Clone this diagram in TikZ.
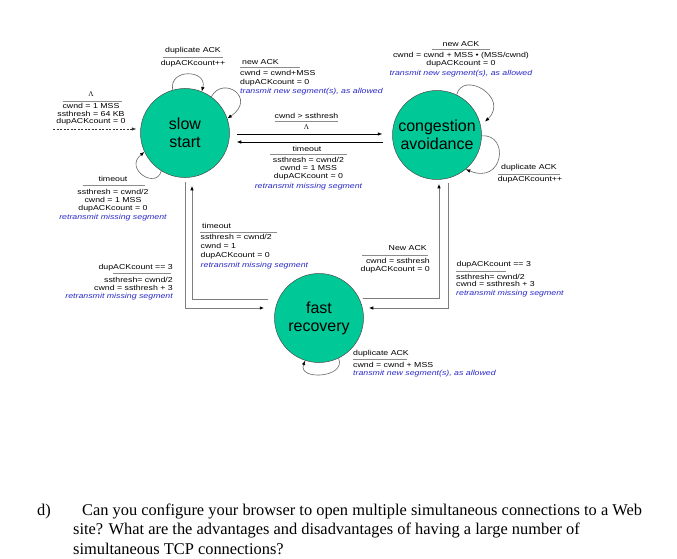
\documentclass[tikz,border=0pt]{standalone}
\usepackage{fontspec}
\setmainfont{Liberation Serif}
\newfontfamily\labfont[FakeStretch=1.22]{Liberation Sans}
\newfontfamily\statefont{Liberation Sans}
\usetikzlibrary{arrows.meta,calc}
\definecolor{stfill}{RGB}{0,200,150}
\definecolor{actblue}{RGB}{40,40,200}
\definecolor{linkgray}{RGB}{125,125,125}
\definecolor{sepgray}{RGB}{140,140,140}
\newcommand\labstack[2]{\begin{tabular}[t]{@{}#1@{}}#2\end{tabular}}
\newcommand\bluetext[1]{\textcolor{actblue}{\itshape #1}}
\begin{document}
\begin{tikzpicture}[x=1pt,y=-1pt,
  state/.style={circle, draw=black!70, line width=0.5pt, fill=stfill, minimum size=89pt, inner sep=0pt,
    font=\statefont\fontsize{16}{18}\selectfont, align=center},
  lab/.style={inner sep=0pt, font=\labfont\fontsize{7.2}{8.2}\selectfont},
  sep/.style={draw=sepgray, line width=0.8pt},
  link/.style={draw=linkgray, line width=0.9pt, -{Latex[length=4.5pt,width=3.5pt,color=black]}},
  loopc/.style={draw=black!60, line width=0.6pt, -{Latex[length=4.5pt,width=3.5pt,color=black]}},
  trans/.style={draw=black, line width=0.6pt, -{Latex[length=4.5pt,width=3.5pt]}},
  q/.style={inner sep=0pt, font=\fontsize{16.4}{19}\selectfont}]
\fill[white] (0,0) rectangle (677,559);
\useasboundingbox (0,0) rectangle (677,559);

% states
\node[state] (ss) at (185,133) {slow\\start};
\node[state] (ca) at (437,135) {congestion\\avoidance};
\node[state] (fr) at (319,318) {fast\\recovery};

% initial transition
\coordinate (init) at (53,129);
\draw[trans, draw=black!80, dash pattern=on 2pt off 1.5pt, shorten >=4pt] (init) -- (init -| ss.west);
\node[lab,anchor=base] (e3) at (91,96.7) {\rmfamily Λ};
\draw[sep] (63,101) -- (122,101);
\node[lab,anchor=base] (a3) at (91,109) {\labstack{c}{cwnd = 1 MSS\\[-0.7pt] ssthresh = 64 KB\\[-0.7pt] dupACKcount = 0}};

% slow start loops
\draw[loopc] (ss.106) .. controls +(-4,-22) and +(6,-22) .. (ss.68);
\node[lab,anchor=base] (e1) at (193,53) {duplicate ACK};
\draw[sep] (163,57.3) -- (223,57.3);
\node[lab,anchor=base] (a1) at (193,65.5) {dupACKcount++};

\draw[loopc] (ss.54) .. controls +(12,-22) and +(30,-20) .. (ss.19);
\node[lab,anchor=base west] (e2) at (242,64.3) {new ACK};
\draw[sep] (240,67.5) -- (300,67.5);
\node[lab,anchor=base west] (a2) at (240,75.7) {\labstack{l}{cwnd = cwnd+MSS\\[0.3pt] dupACKcount = 0\\[1pt] \bluetext{transmit new segment(s), as allowed}}};

\draw[loopc] (ss.238) .. controls +(-5,19) and +(-21,17) .. (ss.205);
\node[lab,anchor=base] (e6) at (113,181.7) {timeout};
\draw[sep] (83,185.7) -- (145,185.7);
\node[lab,anchor=base] (a6) at (113,194) {\labstack{c}{ssthresh = cwnd/2\\ cwnd = 1 MSS\\ dupACKcount = 0\\[1.2pt]\bluetext{retransmit missing segment}}};

% slow start <-> congestion avoidance
\draw[trans] ($(ss.east)+(7,1)$) -- ($(ca.west)+(-10,-1)$);
\draw[trans] ($(ca.west)+(-9,7)$) -- ($(ss.east)+(7,9)$);
\node[lab,anchor=base] (e4) at (306.5,118.3) {cwnd > ssthresh};
\draw[sep] (275,121) -- (338,121);
\node[lab,anchor=base] (a4) at (306.5,130) {\rmfamily Λ};

\node[lab,anchor=base] (e5) at (307,151) {timeout};
\draw[sep] (270,154.3) -- (347,154.3);
\node[lab,anchor=base] (a5) at (308.5,162.3) {\labstack{c}{ssthresh = cwnd/2\\ cwnd = 1 MSS\\ dupACKcount = 0\\[1.2pt] \bluetext{retransmit missing segment}}};

% congestion avoidance loops
\draw[loopc] (ca.64) .. controls +(6.5,-25) and +(25,-24) .. ($(ca.16)+(5,-1)$);
\node[lab,anchor=base] (e11) at (461,46.5) {new ACK};
\draw[sep] (432,49.5) -- (490,49.5);
\node[lab,anchor=base] (a11) at (461,57.7) {\labstack{c}{cwnd = cwnd + MSS • (MSS/cwnd)\\ dupACKcount = 0\\[1pt]\bluetext{transmit new segment(s), as allowed}}};

\draw[loopc] (ca.-1) .. controls +(28,-2) and +(38,16) .. (ca.-50);
\node[lab,anchor=base] (e12) at (529,169) {duplicate ACK};
\draw[sep] (498,174) -- (560,174);
\node[lab,anchor=base] (a12) at (530,181.7) {dupACKcount++};

% box connectors
\draw[link] ($(ss.south)+(0,4)$) |- ($(fr.west)+(-10,-10)$);
\draw[link] ($(fr.west)+(-6,-19)$) -| ($(ss.south)+(7,8)$);
\draw[link] ($(fr.east)+(-1,-20)$) -| ($(ca.south)+(2,4)$);
\draw[link] ($(ca.south)+(11,3)$) |- ($(fr.east)+(5,-10)$);

\node[lab,anchor=base west] (e7) at (202,228.5) {timeout};
\draw[sep] (200,232.7) -- (277,232.7);
\node[lab,anchor=base west] (a7) at (200.5,239.5) {\labstack{l}{ssthresh = cwnd/2\\[0.8pt] cwnd = 1\\[0.8pt] dupACKcount = 0\\[1.5pt]\bluetext{retransmit missing segment}}};

\node[lab,anchor=base east] (e8) at (427,250.5) {New ACK};
\draw[sep] (362,255) -- (428,255);
\node[lab,anchor=base east] (a8) at (430,263.5) {\labstack{r}{cwnd = ssthresh\\ dupACKcount = 0}};

\node[lab,anchor=base east] (e9) at (173,269) {dupACKcount == 3};
\draw[sep] (113,273.3) -- (171,273.3);
\node[lab,anchor=base east] (a9) at (173,282.5) {\labstack{r}{ssthresh= cwnd/2\\[-0.5pt] cwnd = ssthresh + 3\\[0.5pt]\bluetext{retransmit missing segment}}};

\node[lab,anchor=base west] (e10) at (456.5,266.5) {dupACKcount == 3};
\draw[sep] (456,271) -- (506,271);
\node[lab,anchor=base west] (a10) at (456,279) {\labstack{l}{ssthresh= cwnd/2\\[-0.5pt] cwnd = ssthresh + 3\\[1pt]\bluetext{retransmit missing segment}}};

% fast recovery loop
\draw[loopc] (fr.-64) .. controls +(8,20) and +(-8,20) .. (fr.-108);
\node[lab,anchor=base west] (e13) at (353,355) {duplicate ACK};
\draw[sep] (353,359.3) -- (407,359.3);
\node[lab,anchor=base west] (a13) at (353,367.5) {\labstack{l}{cwnd = cwnd + MSS\\\bluetext{transmit new segment(s), as allowed}}};

% question text
\node[q,anchor=base west] (qd) at (37,515) {d)};
\node[q,anchor=base west] (q1) at (82,515) {Can you configure your browser to open multiple simultaneous connections to a Web};
\node[q,anchor=base west] (q2) at (73,534.5) {site? What are the advantages and disadvantages of having a large number of};
\node[q,anchor=base west] (q3) at (73,554) {simultaneous TCP connections?};
\end{tikzpicture}
\end{document}
